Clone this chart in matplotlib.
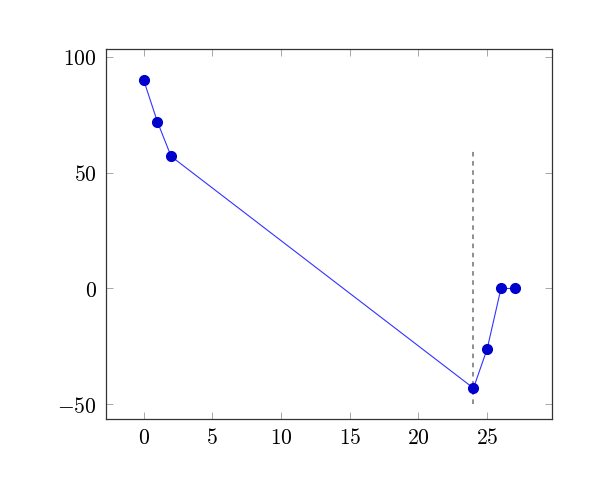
import matplotlib
matplotlib.use('Agg')
import matplotlib.pyplot as plt
from matplotlib.ticker import FuncFormatter

# data
x_vals = [0, 1, 2, 24, 25, 26, 27]
y_vals = [90, 72, 57, -43, -26, 0, 0]
marker_x = 24
marker_y = [-50, 60]
x_ticks = [0, 5, 10, 15, 20, 25]
y_ticks = [-50, 0, 50, 100]

plt.rcParams['mathtext.fontset'] = 'cm'
plt.rcParams['font.family'] = 'serif'

fig = plt.figure(figsize=(6.04, 5.0), dpi=100)
ax = fig.add_axes([0.1763, 0.162, 0.9136 - 0.1763, 0.902 - 0.162])

ax.plot([marker_x, marker_x], marker_y, color='#707070', linewidth=1.1,
        linestyle=(0, (3, 3)))
ax.plot(x_vals, y_vals, color='#3333ff', linewidth=0.8, marker='o',
        markersize=7, markerfacecolor='#0000cc', markeredgecolor='#0000cc')

ax.set_xlim(-2.7, 29.7)
ax.set_ylim(-56.3, 103.3)
ax.set_xticks(x_ticks)
ax.set_yticks(y_ticks)
fmt = FuncFormatter(lambda v, pos: f"${v:g}$")
ax.xaxis.set_major_formatter(fmt)
ax.yaxis.set_major_formatter(fmt)
ax.tick_params(direction='in', top=True, right=True, length=5, width=0.6,
               color='#999999', labelsize=15.5)
ax.tick_params(axis='y', pad=7)
ax.tick_params(axis='x', pad=6)
for s in ax.spines.values():
    s.set_linewidth(0.9)
    s.set_color('#333333')

plt.savefig('out.png', dpi=100)
